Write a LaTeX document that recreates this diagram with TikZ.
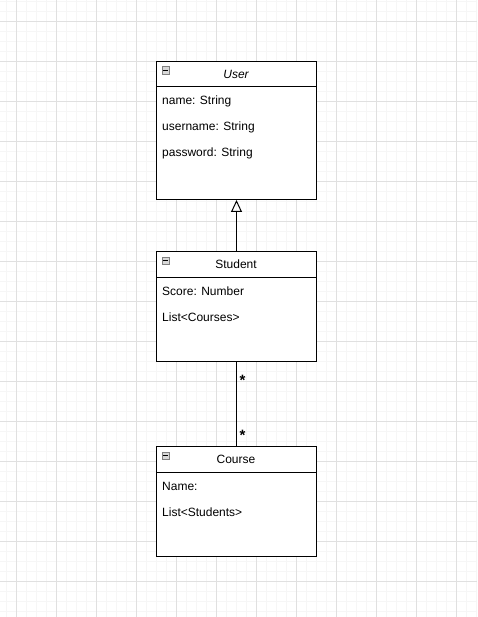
\documentclass[tikz,border=0pt]{standalone}
\usepackage{fontspec}
\setmainfont{Liberation Sans}
\usetikzlibrary{arrows.meta}
\definecolor{gridmajor}{HTML}{E0E0E0}
\definecolor{gridminor}{HTML}{F6F6F6}
\definecolor{iconborder}{HTML}{808080}
\definecolor{iconfill}{HTML}{D8D8D8}
\begin{document}
\begin{tikzpicture}[x=1pt,y=-1pt,
  classbox/.style={draw=black,line width=1pt,minimum width=160pt,anchor=north west,inner sep=0pt},
  attr/.style={anchor=west,inner sep=0pt,font=\fontsize{12}{14}\selectfont},
  ctitle/.style={inner sep=0pt,font=\fontsize{12}{14}\selectfont},
  mult/.style={inner sep=0pt,font=\fontsize{15}{16}\selectfont\bfseries},
  icon/.style={draw=iconborder,fill=iconfill,line width=0.8pt,minimum size=7.5pt,inner sep=0pt,anchor=north west}]
\useasboundingbox (0,0) rectangle (477,617);
\fill[white] (0,0) rectangle (477,617);
% grid
\foreach \x in {6,16,...,476} \draw[gridminor,line width=0.8pt] (\x,0) -- (\x,617);
\foreach \y in {1,11,...,616} \draw[gridminor,line width=0.8pt] (0,\y) -- (477,\y);
\foreach \x in {16,56,...,476} \draw[gridmajor,line width=0.8pt] (\x,0) -- (\x,617);
\foreach \y in {21,61,...,616} \draw[gridmajor,line width=0.8pt] (0,\y) -- (477,\y);

% User
\node[classbox,fill=white,minimum height=138pt] (user) at (156,61) {};
\draw[line width=1pt] (156,87) -- (316,87);
\node[icon] (uicon) at (161.5,66.5) {};
\draw[black,line width=1pt] (uicon.west) ++(1.5,0) -- ([xshift=-1.5pt]uicon.east);
\node[ctitle,font=\fontsize{12}{14}\selectfont\itshape] (utitle) at (236,74) {User};
\node[attr] (u1) at (162,101) {name: String};
\node[attr] (u2) at (162,127) {username: String};
\node[attr] (u3) at (162,153) {password: String};

% Student
\node[classbox,fill=white,minimum height=110pt] (student) at (156,251) {};
\draw[line width=1pt] (156,277) -- (316,277);
\node[icon] (sicon) at (161.5,256.5) {};
\draw[black,line width=1pt] (sicon.west) ++(1.5,0) -- ([xshift=-1.5pt]sicon.east);
\node[ctitle] (stitle) at (236,264) {Student};
\node[attr] (s1) at (162,291) {Score: Number};
\node[attr] (s2) at (162,317) {List<Courses>};

% Course
\node[classbox,fill=white,minimum height=110pt] (course) at (156,446) {};
\draw[line width=1pt] (156,472) -- (316,472);
\node[icon] (cicon) at (161.5,451.5) {};
\draw[black,line width=1pt] (cicon.west) ++(1.5,0) -- ([xshift=-1.5pt]cicon.east);
\node[ctitle] (ctitle) at (236,459) {Course};
\node[attr] (c1) at (162,486) {Name:};
\node[attr] (c2) at (162,512) {List<Students>};

% connectors
\draw[line width=1pt,-{Triangle[open,length=12pt,width=11pt,line width=1pt]}] (student.north) -- (user.south);
\draw[line width=1pt] (student.south) -- (course.north);
\node[mult] (m1) at (242.5,380.5) {*};
\node[mult] (m2) at (242.5,435) {*};
\end{tikzpicture}
\end{document}
